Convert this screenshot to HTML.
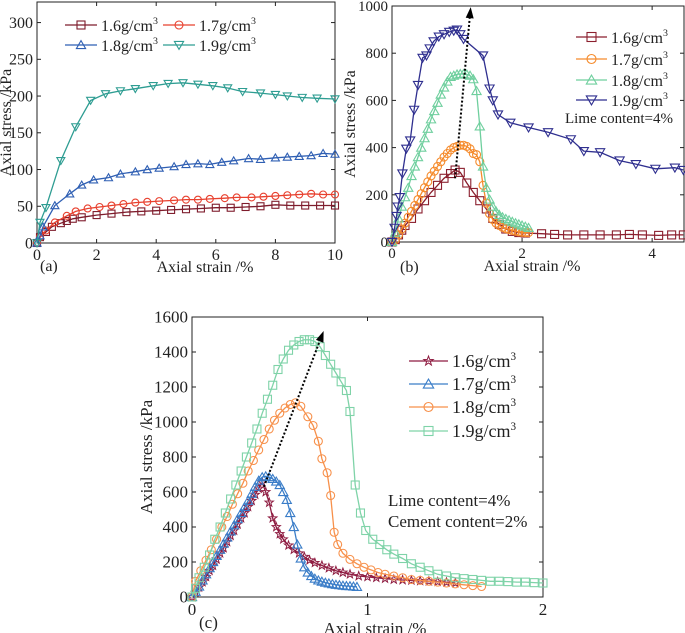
<!DOCTYPE html>
<html><head><meta charset="utf-8"><style>
body{margin:0;background:#fff}
svg{display:block;font-family:"Liberation Serif",serif}
</style></head><body>
<svg id="fig" width="685" height="633" viewBox="0 0 685 633"></svg>
<script>
// ---------- Panel (a) data ----------
const aX16=[0,0.1,0.3,0.5,0.8,1,1.2,1.5,2,2.5,3,3.5,4,4.5,5,5.5,6,6.5,7,7.5,8,8.5,9,9.5,10];
const aY16=[0,8,15,22,27,30,33,35,38,40,42,43,44,45,46,47,48,48,49,50,52,51,51,51,51];
const aX17=[0,0.1,0.3,0.6,1,1.3,1.7,2.1,2.5,2.9,3.3,3.7,4.1,4.6,5,5.4,5.8,6.3,6.7,7.2,7.6,8,8.4,8.8,9.2,9.6,10];
const aY17=[0,8,17,28,37,43,47,49,51,53,55,56,57,58,59,59,60,61,62,62,63,64,65,66,67,66,66];
const aX18=[0,0.1,0.2,0.6,1.1,1.5,1.9,2.4,2.8,3.3,3.7,4.1,4.6,5,5.4,5.8,6.2,6.6,7.1,7.5,8,8.4,8.8,9.2,9.6,10];
const aY18=[0,10,22,51,67,79,86,89,94,97,100,102,104,107,108,107,110,112,115,114,116,117,118,119,122,121];
const aX19=[0,0.1,0.3,0.8,1.3,1.8,2.3,2.8,3.3,3.9,4.4,4.9,5.4,5.9,6.4,6.9,7.5,8,8.4,8.9,9.4,10];
const aY19=[0,28,48,112,158,194,203,207,210,214,217,218,216,214,211,206,204,202,200,198,197,196];
const aXTicks=[0,2,4,6,8,10];
const aYTicks=[0,50,100,150,200,250,300];
// ---------- Panel (b) data ----------
const bX16=[0,0.05,0.1,0.15,0.2,0.3,0.4,0.5,0.6,0.7,0.8,0.9,0.97,1.05,1.15,1.25,1.35,1.45,1.55,1.65,1.75,1.85,1.95,2.05,2.3,2.5,2.7,2.95,3.2,3.45,3.65,3.85,4.1,4.3,4.48];
const bY16=[0,10,30,50,70,100,140,175,210,240,270,290,305,295,250,210,175,140,100,75,55,45,40,38,35,32,30,30,30,30,32,30,28,30,30];
const bX17=[0,0.05,0.1,0.15,0.2,0.25,0.3,0.35,0.4,0.45,0.5,0.55,0.6,0.65,0.7,0.75,0.8,0.85,0.9,0.95,1,1.05,1.1,1.15,1.2,1.25,1.3,1.35,1.4,1.45,1.5,1.55,1.6,1.65,1.7,1.75,1.8,1.85,1.9,1.95,2,2.05,2.1];
const bY17=[0,10,30,55,80,105,130,155,180,205,230,255,280,300,320,340,360,375,390,400,405,410,410,405,395,375,370,340,240,165,120,95,80,70,62,57,53,49,46,43,41,40,40];
const bX18=[0,0.05,0.1,0.15,0.2,0.25,0.3,0.35,0.4,0.45,0.5,0.55,0.6,0.65,0.7,0.75,0.8,0.85,0.9,0.95,1,1.05,1.1,1.15,1.2,1.25,1.3,1.35,1.4,1.45,1.5,1.55,1.6,1.65,1.7,1.75,1.8,1.85,1.9,1.95,2,2.05,2.1];
const bY18=[0,40,100,150,190,230,280,320,360,400,440,480,520,555,590,625,655,680,700,705,710,712,712,710,705,690,640,490,320,230,180,150,130,115,105,98,92,86,80,75,70,65,60];
const bX19=[0,0.04,0.07,0.09,0.12,0.16,0.22,0.28,0.34,0.4,0.47,0.53,0.58,0.64,0.72,0.8,0.88,0.95,1,1.05,1.1,1.4,1.5,1.55,1.63,1.82,2.1,2.4,2.75,2.95,3.2,3.5,3.75,4.05,4.35,4.48];
const bY19=[0,60,110,150,190,290,395,430,560,665,780,790,820,850,870,880,890,895,900,880,860,790,650,600,540,505,485,465,435,385,380,345,330,310,315,305];
const bXTicks=[0,2,4];
const bYTicks=[0,200,400,600,800,1000];
// ---------- Panel (c) data ----------
const cX16=[0,0.02,0.04,0.06,0.08,0.1,0.12,0.14,0.16,0.18,0.2,0.22,0.24,0.26,0.28,0.3,0.32,0.34,0.36,0.38,0.4,0.42,0.44,0.46,0.48,0.5,0.52,0.55,0.58,0.61,0.64,0.67,0.7,0.74,0.78,0.82,0.86,0.9,0.95,1,1.05,1.1,1.15,1.2,1.25,1.3,1.35,1.4,1.45,1.5];
const cY16=[0,25,55,85,115,150,180,215,250,280,315,350,380,415,450,480,515,550,585,620,655,600,540,450,400,360,330,295,270,250,230,210,195,180,165,150,140,130,120,115,110,105,100,97,95,92,90,87,84,80];
const cX17=[0,0.02,0.04,0.06,0.08,0.1,0.12,0.14,0.16,0.18,0.2,0.22,0.24,0.26,0.28,0.3,0.32,0.34,0.36,0.38,0.4,0.42,0.44,0.46,0.48,0.5,0.52,0.54,0.56,0.58,0.6,0.62,0.64,0.66,0.68,0.7,0.72,0.74,0.76,0.78,0.8,0.82,0.84,0.86,0.88,0.9,0.92,0.94];
const cY17=[0,30,60,95,130,165,200,235,270,305,340,375,410,445,480,515,550,590,630,665,685,690,685,675,660,640,600,555,480,400,300,220,170,140,120,105,95,88,82,78,74,70,68,65,63,62,60,58];
const cX18=[0,0.02,0.05,0.08,0.11,0.14,0.17,0.2,0.23,0.26,0.29,0.32,0.35,0.38,0.41,0.44,0.47,0.5,0.53,0.56,0.59,0.62,0.66,0.69,0.72,0.74,0.77,0.79,0.81,0.83,0.86,0.9,0.94,0.98,1.02,1.06,1.1,1.15,1.2,1.25,1.3,1.35,1.4,1.45,1.5,1.55,1.6,1.65];
const cY18=[0,90,150,210,270,330,400,460,530,590,650,720,780,840,900,960,1010,1050,1080,1100,1110,1090,1030,980,890,790,710,580,370,300,250,215,190,170,155,140,130,120,110,100,95,90,85,80,75,70,65,60];
const cX19=[0,0.02,0.04,0.07,0.1,0.13,0.16,0.19,0.22,0.25,0.28,0.31,0.34,0.37,0.4,0.43,0.46,0.49,0.52,0.55,0.58,0.61,0.64,0.67,0.7,0.73,0.76,0.79,0.82,0.85,0.88,0.9,0.93,0.96,0.99,1.03,1.07,1.11,1.15,1.2,1.25,1.3,1.35,1.4,1.45,1.5,1.55,1.6,1.65,1.7,1.75,1.8,1.85,1.9,1.95,2];
const cY19=[0,50,110,170,240,330,400,480,560,640,720,800,880,960,1050,1130,1210,1300,1360,1410,1440,1460,1470,1470,1460,1430,1380,1330,1280,1230,1180,1060,640,480,380,330,300,270,245,220,190,170,150,130,120,110,105,100,95,90,90,88,85,85,82,80];
const cXTicks=[0,1,2];
const cYTicks=[0,200,400,600,800,1000,1200,1400,1600];

const NS='http://www.w3.org/2000/svg';
const svg=document.getElementById('fig');
function mk(tag,attrs,parent){const e=document.createElementNS(NS,tag);for(const k in attrs)e.setAttribute(k,attrs[k]);(parent||svg).appendChild(e);return e;}
function marker(g,type,x,y,col,s){
  let e;
  if(type==='sq')e=mk('rect',{x:x-s,y:y-s,width:2*s,height:2*s,fill:'none',stroke:col,'stroke-width':1.1},g);
  else if(type==='ci')e=mk('circle',{cx:x,cy:y,r:s,fill:'none',stroke:col,'stroke-width':1.1},g);
  else if(type==='up')e=mk('polygon',{points:`${x},${y-s*1.1} ${x-s*1.15},${y+s*0.9} ${x+s*1.15},${y+s*0.9}`,fill:'none',stroke:col,'stroke-width':1.1},g);
  else if(type==='dn')e=mk('polygon',{points:`${x},${y+s*1.1} ${x-s*1.15},${y-s*0.9} ${x+s*1.15},${y-s*0.9}`,fill:'none',stroke:col,'stroke-width':1.1},g);
  else {let p=[];for(let i=0;i<10;i++){const r=i%2?s*0.45:s*1.1;const a=-Math.PI/2+i*Math.PI/5;p.push((x+r*Math.cos(a)).toFixed(1)+','+(y+r*Math.sin(a)).toFixed(1));}
    e=mk('polygon',{points:p.join(' '),fill:'none',stroke:col,'stroke-width':1},g);}
  
  
}
function panel(P){
  const g=mk('g',{});
  
  
  const sx=v=>P.x0+(v-P.xmin)/(P.xmax-P.xmin)*(P.x1-P.x0);
  const sy=v=>P.y0-(v-P.ymin)/(P.ymax-P.ymin)*(P.y0-P.y1);
  const fr=mk('rect',{x:P.x0,y:P.y1,width:P.x1-P.x0,height:P.y0-P.y1,fill:'none',stroke:'#222','stroke-width':1},g);
  
  
  const tf=P.tfs||15;
  P.xt.forEach(t=>{const X=sx(t);
    mk('line',{x1:X,x2:X,y1:P.y0,y2:P.y0-4,stroke:'#222'},g);
    mk('line',{x1:X,x2:X,y1:P.y1,y2:P.y1+4,stroke:'#222'},g);
    const tx=mk('text',{x:X,y:P.y0+tf+1,'font-size':tf,'text-anchor':'middle',fill:'#222'},g);tx.textContent=t;
    
    });
  P.yt.forEach(t=>{const Y=sy(t);
    mk('line',{x1:P.x0,x2:P.x0+4,y1:Y,y2:Y,stroke:'#222'},g);
    mk('line',{x1:P.x1,x2:P.x1-4,y1:Y,y2:Y,stroke:'#222'},g);
    const tx=mk('text',{x:P.x0-4,y:Y+tf/3,'font-size':tf,'text-anchor':'end',fill:'#222'},g);tx.textContent=t;
    
    });
  P.series.forEach(s=>{
    const sg=mk('g',{},g);
    
    
    const pts=s.x.map((v,i)=>sx(v).toFixed(1)+','+sy(s.y[i]).toFixed(1)).join(' ');
    mk('polyline',{points:pts,fill:'none',stroke:s.c,'stroke-width':1.3},sg);
    s.x.forEach((v,i)=>marker(sg,s.m,sx(v),sy(s.y[i]),s.c,P.ms));
  });
  if(P.arrow){const [a,b,c,d]=P.arrow;const X1=sx(a),Y1=sy(b),X2=sx(c),Y2=sy(d);
    const ang=Math.atan2(Y2-Y1,X2-X1);const L=11;
    const ar=mk('line',{x1:X1,y1:Y1,x2:X2-L*Math.cos(ang),y2:Y2-L*Math.sin(ang),stroke:'#000','stroke-width':2,'stroke-dasharray':'2,2'},g);
    
    
    const hx=X2-L*Math.cos(ang),hy=Y2-L*Math.sin(ang);
    mk('polygon',{points:`${X2},${Y2} ${hx+4*Math.sin(ang)},${hy-4*Math.cos(ang)} ${hx-4*Math.sin(ang)},${hy+4*Math.cos(ang)}`,fill:'#000'},g);}
  P.legend.forEach(l=>{
    const lg=mk('g',{},g);
    
    
    mk('line',{x1:l.x,x2:l.x+l.w,y1:l.y,y2:l.y,stroke:l.c,'stroke-width':1.3},lg);
    marker(lg,l.m,l.x+l.w/2,l.y,l.c,P.ms+0.5);
    const t=mk('text',{x:l.x+l.w+4,y:l.y+6,'font-size':P.lfs,fill:'#222'},lg);
    t.innerHTML=l.t+'g/cm<tspan dy="-7" font-size="'+(P.lfs*0.62)+'">3</tspan>';
  });
  P.texts.forEach(t=>{const e=mk('text',{x:t[0],y:t[1],'font-size':t[3]||15,fill:'#222','text-anchor':t[4]||'start'},g);e.textContent=t[2];
    
    });
  const yt=mk('text',{x:0,y:0,'font-size':P.afs||15,'text-anchor':'middle',fill:'#222',transform:`translate(${P.ytx},${(P.y0+P.y1)/2}) rotate(-90)`},g);
  yt.textContent='Axial stress /kPa';
  
  
  const xt=mk('text',{x:P.xtx,y:P.xty,'font-size':P.afs||15,'text-anchor':'middle',fill:'#222'},g);
  xt.textContent='Axial strain /%';
  
  
}
// Panel a
panel({name:'panel-a',x0:37,x1:335,y0:243,y1:2,xmin:0,xmax:10,ymin:0,ymax:328,xt:aXTicks,yt:aYTicks,ms:3.5,lfs:16,tfs:16,afs:16,
 series:[{x:aX16,y:aY16,c:'#7e1c2c',m:'sq',label:'1.6'},{x:aX17,y:aY17,c:'#e8402e',m:'ci',label:'1.7'},{x:aX18,y:aY18,c:'#2f5fb3',m:'up',label:'1.8'},{x:aX19,y:aY19,c:'#2e9d92',m:'dn',label:'1.9'}],
 legend:[{x:65,y:25,w:32,c:'#7e1c2c',m:'sq',t:'1.6'},{x:163,y:25,w:32,c:'#e8402e',m:'ci',t:'1.7'},{x:65,y:45,w:32,c:'#2f5fb3',m:'up',t:'1.8'},{x:163,y:45,w:32,c:'#2e9d92',m:'dn',t:'1.9'}],
 texts:[[40,271,'(a)',16]],ytx:11,xtx:205,xty:272});
// Panel b
panel({name:'panel-b',x0:392,x1:684,y0:242,y1:6,xmin:0,xmax:4.49,ymin:0,ymax:1000,xt:bXTicks,yt:bYTicks,ms:4,lfs:16,tfs:15,afs:16,
 series:[{x:bX16,y:bY16,c:'#8b1f2e',m:'sq',label:'1.6'},{x:bX17,y:bY17,c:'#f58b2c',m:'ci',label:'1.7'},{x:bX18,y:bY18,c:'#6fcf9e',m:'up',label:'1.8'},{x:bX19,y:bY19,c:'#2f2f8f',m:'dn',label:'1.9'}],
 arrow:[0.97,270,1.21,995],
 legend:[{x:576,y:37,w:31,c:'#8b1f2e',m:'sq',t:'1.6'},{x:576,y:59,w:31,c:'#f58b2c',m:'ci',t:'1.7'},{x:576,y:80,w:31,c:'#6fcf9e',m:'up',t:'1.8'},{x:576,y:100,w:31,c:'#2f2f8f',m:'dn',t:'1.9'}],
 texts:[[565,123,'Lime content=4%',15],[400,272,'(b)',16]],ytx:355,xtx:532,xty:271});
// Panel c
panel({name:'panel-c',x0:192,x1:543,y0:597,y1:317,xmin:0,xmax:2,ymin:0,ymax:1600,xt:cXTicks,yt:cYTicks,ms:4,lfs:18,tfs:17,afs:17,
 series:[{x:cX16,y:cY16,c:'#8e1b40',m:'st',label:'1.6'},{x:cX17,y:cY17,c:'#3a7dc8',m:'up',label:'1.7'},{x:cX18,y:cY18,c:'#f7904a',m:'ci',label:'1.8'},{x:cX19,y:cY19,c:'#7fd3a8',m:'sq',label:'1.9'}],
 arrow:[0.41,630,0.75,1520],
 legend:[{x:409,y:361,w:39,c:'#8e1b40',m:'st',t:'1.6'},{x:409,y:384,w:39,c:'#3a7dc8',m:'up',t:'1.7'},{x:409,y:407,w:39,c:'#f7904a',m:'ci',t:'1.8'},{x:409,y:431,w:39,c:'#7fd3a8',m:'sq',t:'1.9'}],
 texts:[[388,506,'Lime content=4%',17],[388,527,'Cement content=2%',17],[199,628,'(c)',17]],ytx:152,xtx:375,xty:634});
</script>
</body></html>
